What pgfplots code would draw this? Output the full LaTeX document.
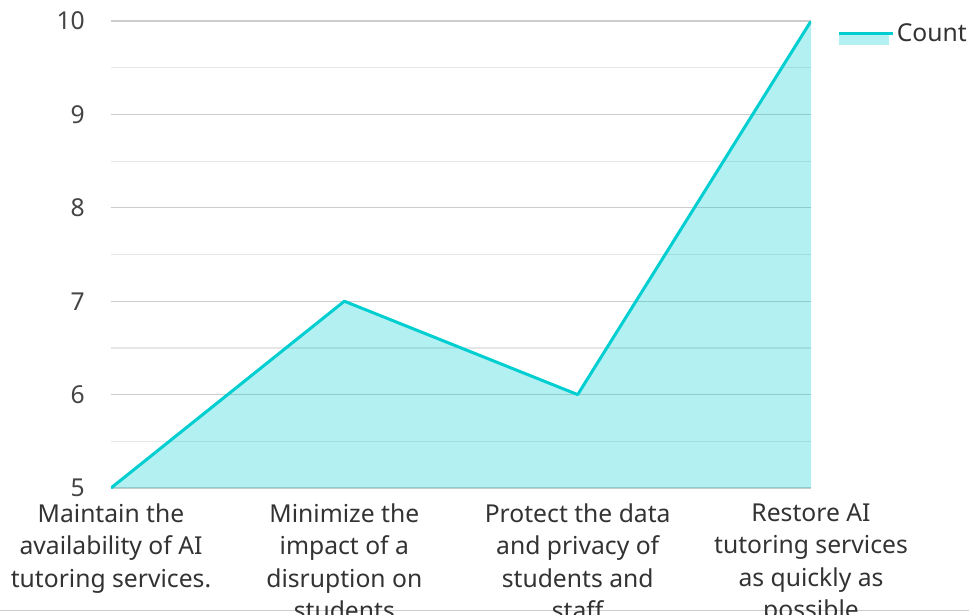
\documentclass[border=0pt]{standalone}
\usepackage{pgfplots}
\pgfplotsset{compat=1.18}
\usepackage{fontspec}
\setmainfont{Noto Sans}
\definecolor{lineC}{RGB}{0,206,209}
\definecolor{gridC}{RGB}{204,204,204}
\definecolor{minorC}{RGB}{230,230,230}
\definecolor{txtC}{RGB}{51,51,51}
\definecolor{tickC}{RGB}{68,68,68}
\begin{document}
\begin{tikzpicture}
\clip (-83.25pt,-94.5pt) rectangle (643.5pt,366pt);
\draw[color=gridC, line width=1pt] (-83.25pt,-91.8pt) -- (643.5pt,-91.8pt);
\begin{axis}[
  scale only axis,
  width=525pt, height=350.25pt,
  xmin=0, xmax=3, ymin=5, ymax=10,
  axis line style={draw=none},
  xtick={0,1,2,3},
  xticklabels={{Maintain the\\availability of AI\\tutoring services.},
               {Minimize the\\impact of a\\disruption on\\students},
               {Protect the data\\and privacy of\\students and\\staff},
               {Restore AI\\tutoring services\\as quickly as\\possible}},
  ytick={5,6,7,8,9,10},
  minor ytick={5.5,6.5,7.5,8.5,9.5},
  ymajorgrids, yminorgrids,
  major grid style={color=gridC, line width=0.9pt},
  minor grid style={color=minorC, line width=0.9pt},
  major tick length=0pt, minor tick length=0pt,
  tick style={draw=none},
  /pgf/number format/assume math mode=true,
  xticklabel style={font=\fontsize{18.5}{24.4}\selectfont, text=txtC, align=center, anchor=north, inner sep=0pt, yshift=-11.5pt},
  yticklabel style={font=\fontsize{18.5}{20}\selectfont, text=tickC, anchor=east, inner sep=0pt, xshift=-19.5pt},
  legend style={draw=none, fill=none, at={(1.037,0.974)}, anchor=west, inner sep=0pt,
    font=\fontsize{18.5}{20}\selectfont, text=txtC},
  legend image code/.code={
    \path[fill=lineC, fill opacity=0.3, draw=none] (0pt,-9pt) rectangle (37.5pt,0pt);
    \path[draw=lineC, line width=2.25pt] (0pt,0pt) -- (37.5pt,0pt);
    \path (0pt,0pt) -- (40.5pt,0pt);
  },
]
\addplot[draw=none, fill=lineC, fill opacity=0.3, forget plot] coordinates {(0,5) (1,7) (2,6) (3,10)} \closedcycle;
\addplot[lineC, line width=2.25pt, line join=round] coordinates {(0,5) (1,7) (2,6) (3,10)};
\addlegendentry{Count}
\end{axis}
\end{tikzpicture}
\end{document}
